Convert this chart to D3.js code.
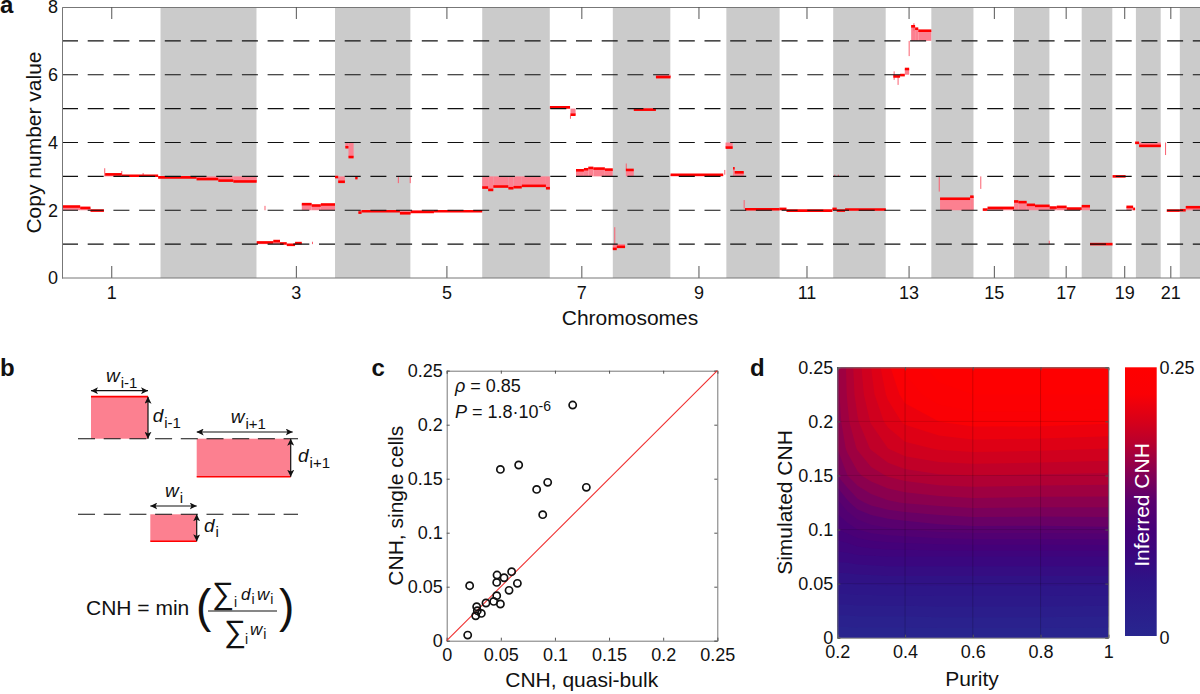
<!DOCTYPE html>
<html>
<head>
<meta charset="utf-8">
<script src="https://cdn.jsdelivr.net/npm/d3@7"></script>
<style>
  html, body { margin: 0; padding: 0; background: #fff; }
  svg { display: block; }
  text { font-family: "Liberation Sans", Arial, sans-serif; fill: #111; }
  .tick text { font-size: 18px; fill: #111; }
  .tick line { stroke: #555; }
  .domain { stroke: #777; }
</style>
</head>
<body>
<svg id="fig" width="1200" height="694"></svg>
<script>
// ---- panel a: chromosome lengths (Mb) and copy number segments
const chrLengths = [249,243,198,191,181,171,159,146,141,135,135,133,115,107,102,90,81,78,59,63,48,51];
const copyTicks = [0,2,4,6,8];
const copyLevels = [1,2,3,4,5,6,7];

// start Mb, end Mb, copy number, integer level it is filled to
const cnSegments = [
  [0,46,2.11,2],[46,72,2.07,2],[72,106,1.99,2],[109,151,3.06,3],[151,243,3.02,3],
  [243,340,2.97,3],[340,395,2.92,3],[395,433,2.875,3],[433,492,2.85,3],
  [492,534,1.05,1],[534,551,1.09,1],[551,568,1.02,1],[568,589,0.98,1],[589,606,1.03,1],
  [606,631,2.18,2],[631,654,2.14,2],[654,690,2.17,2],
  [690,698,2.98,3],[698,715,2.84,3],[716,724,3.86,4],[724,737,3.57,4],[741,747,2.95,3],
  [749,757,1.93,2],[757,854,1.97,2],[854,881,1.91,2],
  [881,940,1.95,2],[940,1062,1.97,2],
  [1062,1077,2.67,3],[1077,1090,2.6,3],[1090,1128,2.7,3],[1128,1141,2.65,3],
  [1141,1162,2.68,3],[1162,1223,2.72,3],[1223,1233,2.65,3],
  [1233,1284,5.04,5],[1285,1298,4.82,5],
  [1299,1319,3.18,3],[1319,1330,3.21,3],[1330,1343,3.25,3],[1343,1372,3.23,3],[1372,1392,3.2,3],
  [1392,1402,0.86,1],[1402,1423,0.92,1],[1425,1445,3.19,3],
  [1445,1501,4.97,5],[1501,1538,5.93,6],
  [1538,1671,3.05,3],[1677,1695,3.85,4],[1696,1700,3.24,3],[1700,1723,3.12,3],
  [1726,1813,2.03,2],[1813,1831,2.04,2],[1831,1947,1.99,2],
  [1947,1958,2.04,2],[1958,1979,1.99,2],[1979,2082,2.02,2],
  [2101,2118,5.95,6],[2118,2130,5.99,6],[2130,2141,6.17,6],
  [2146,2156,7.43,7],[2156,2164,7.36,7],[2164,2197,7.3,7],
  [2219,2295,2.34,2],[2295,2304,2.4,2],
  [2327,2339,2.02,2],[2339,2406,2.07,2],
  [2406,2417,2.26,2],[2417,2438,2.24,2],[2438,2459,2.16,2],[2459,2496,2.13,2],
  [2496,2514,2.08,2],[2514,2539,2.1,2],[2539,2577,2.05,2],
  [2577,2598,2.12,2],[2598,2655,1.0,1],
  [2655,2688,3.0,3],[2690,2707,2.1,2],[2707,2712,2.04,2],
  [2712,2722,3.99,4],[2722,2777,3.9,4],
  [2792,2825,1.99,2],[2825,2840,2.0,2],[2840,2876,2.09,2]
];

// thin pale spikes: Mb, from copy number, to copy number
const cnSpikes = [
  [108,3.0,3.24],[151,3.05,3.16],[205,3.0,3.1],[513,2.0,2.13],[633,1.0,1.07],
  [850,3.0,2.8],[880,2.8,3.0],[1285,4.8,4.7],[1397,1.0,1.5],[1426,3.2,3.38],
  [1675,3.05,3.19],[1724,2.05,2.3],[1953,3.0,3.05],[1962,3.0,3.05],
  [2141,6.55,7.0],[2103,5.85,6.1],[2113,5.7,5.95],[2153,7.3,7.52],
  [2217,2.55,3.0],[2322,2.63,3.0],[2495,1.0,1.1],[2789,3.63,4.0]
];

// ---- panel c: quasi-bulk vs single cell CNH
const bulkCNH = [0.0194,0.0212,0.0277,0.0268,0.0283,0.032,0.0363,0.0434,0.0462,0.0496,0.0462,0.0465,0.053,0.0576,0.06,0.0653,0.0496,0.0665,0.0831,0.0933,0.0887,0.129,0.1164];
const cellCNH = [0.0052,0.0509,0.0315,0.0231,0.0278,0.0253,0.0349,0.0364,0.0417,0.034,0.054,0.0608,0.0583,0.0466,0.0639,0.0531,0.1586,0.1627,0.1401,0.1466,0.1167,0.142,0.2182];
const cnhTicks = [0,0.05,0.1,0.15,0.2,0.25];

// ---- panel d: inferred CNH, one row per simulated CNH, one column per purity
const purityGrid = [0.2,0.23,0.26,0.3,0.35,0.4,0.5,0.6,0.8,1];
const simulatedGrid = [0,0.025,0.05,0.075,0.1,0.125,0.15,0.175,0.2,0.225,0.25];
const inferredGrid = [
  [0.001,0.001,0.001,0.001,0.001,0.001,0.001,0.001,0.001,0.001],
  [0.024,0.024,0.025,0.025,0.025,0.025,0.026,0.026,0.026,0.025],
  [0.05,0.05,0.051,0.051,0.052,0.052,0.052,0.052,0.052,0.052],
  [0.075,0.076,0.078,0.079,0.08,0.08,0.08,0.08,0.08,0.08],
  [0.1,0.104,0.11,0.115,0.118,0.12,0.124,0.126,0.126,0.127],
  [0.117,0.128,0.137,0.143,0.148,0.151,0.154,0.156,0.155,0.155],
  [0.14,0.15,0.158,0.165,0.171,0.175,0.179,0.18,0.179,0.178],
  [0.15,0.162,0.171,0.181,0.19,0.196,0.201,0.203,0.202,0.2],
  [0.155,0.168,0.179,0.191,0.203,0.212,0.22,0.224,0.224,0.222],
  [0.157,0.171,0.184,0.197,0.212,0.224,0.236,0.24,0.24,0.24],
  [0.158,0.172,0.186,0.2,0.218,0.232,0.245,0.25,0.25,0.25]
];
const cmapValues = [0,0.05,0.08,0.1,0.126,0.15,0.18,0.2,0.225,0.25];
const cmapColors = ["#28268f","#2d1487","#3c057d","#460078","#5a006e","#820055","#b9002d","#d70019","#fa0005","#ff0000"];
const purityTicks = [0.2,0.4,0.6,0.8,1];

// ---- panel b: schematic, segments as start, end, level and depth
const blockStart = [13,118.7,72.3];
const blockEnd = [70,212.7,118.7];
const blockLevel = [1,1,0];
const blockDepth = [0.556,-0.503,-0.357];
const schemLevels = [1,0];

const svg = d3.select("#fig");
const COPY_RED = "#ff0000";
const PINK = "#fc8090";

function panelLetter(s, x, y) {
  svg.append("text").attr("x", x).attr("y", y)
    .style("font-size", "24px").style("font-weight", "700").text(s);
}
function axisLabel(s, x, y, rot) {
  const t = svg.append("text").attr("text-anchor", "middle")
    .style("font-size", "21px").text(s);
  if (rot) t.attr("transform", `translate(${x},${y}) rotate(-90)`);
  else t.attr("x", x).attr("y", y);
  return t;
}

// PANEL A
(function() {
  const L = 62, R = 1200, T = 7, B = 278;
  const x = d3.scaleLinear().domain([0, d3.sum(chrLengths)]).range([L, R]);
  const y = d3.scaleLinear().domain([0, 8]).range([B, T]);
  const starts = d3.cumsum([0].concat(chrLengths));
  const g = svg.append("g");

  g.selectAll("rect.chr").data(chrLengths).enter().append("rect")
    .attr("class", "chr")
    .attr("x", (d, i) => x(starts[i]))
    .attr("width", (d, i) => x(starts[i] + d) - x(starts[i]))
    .attr("y", T).attr("height", B - T)
    .attr("fill", (d, i) => i % 2 ? "#cbcbcb" : "#fff");

  // pink fill down (or up) to the integer level
  g.selectAll("rect.fill").data(cnSegments).enter().append("rect")
    .attr("class", "fill")
    .attr("x", d => x(d[0])).attr("width", d => x(d[1]) - x(d[0]))
    .attr("y", d => y(Math.max(d[2], d[3])))
    .attr("height", d => Math.abs(y(d[2]) - y(d[3])))
    .attr("fill", PINK);

  g.selectAll("line.spike").data(cnSpikes).enter().append("line")
    .attr("class", "spike")
    .attr("x1", d => x(d[0])).attr("x2", d => x(d[0]))
    .attr("y1", d => y(d[1])).attr("y2", d => y(d[2]))
    .attr("stroke", "#fa6070").attr("stroke-width", 1);

  g.selectAll("line.seg").data(cnSegments).enter().append("line")
    .attr("class", "seg")
    .attr("x1", d => x(d[0])).attr("x2", d => x(d[1]))
    .attr("y1", d => y(d[2])).attr("y2", d => y(d[2]))
    .attr("stroke", COPY_RED).attr("stroke-width", 2.6);

  g.selectAll("line.level").data(copyLevels).enter().append("line")
    .attr("class", "level")
    .attr("x1", L).attr("x2", R)
    .attr("y1", d => y(d)).attr("y2", d => y(d))
    .attr("stroke", "#111").attr("stroke-width", 1.1)
    .attr("stroke-dasharray", "16,9.7");

  const odd = chrLengths.map((d, i) => i).filter(i => i % 2 === 0);
  const centres = odd.map(i => starts[i] + chrLengths[i] / 2);
  const xLabel = d3.scaleOrdinal().domain(centres).range(odd.map(i => String(i + 1)));

  g.append("g").attr("transform", `translate(0,${B})`)
    .call(d3.axisBottom(x).tickValues(centres).tickFormat(xLabel).tickSize(-12).tickPadding(8))
    .select(".domain").remove();
  g.append("g").attr("transform", `translate(0,${T})`)
    .call(d3.axisTop(x).tickValues(centres).tickFormat("").tickSize(-12));
  g.append("g").attr("transform", `translate(${L},0)`)
    .call(d3.axisLeft(y).tickValues(copyTicks).tickFormat(d3.format("d")).tickSize(0).tickPadding(4));
  g.append("line").attr("x1", L).attr("x2", R).attr("y1", B).attr("y2", B).attr("stroke", "#777");
  g.selectAll(".domain").attr("stroke", "#777");

  axisLabel("Chromosomes", 630, 325);
  axisLabel("Copy number value", 41, 142.5, true);
  panelLetter("a", 0, 13);
})();

// PANEL B
(function() {
  const x = d3.scaleLinear().domain([0, 220]).range([78, 298]);
  const y = d3.scaleLinear().domain([0, 1]).range([514.3, 438.7]);
  const g = svg.append("g");

  const defs = svg.append("defs");
  defs.append("marker").attr("id", "arrowhead")
    .attr("viewBox", "0 0 8 8").attr("refX", 8).attr("refY", 4)
    .attr("markerWidth", 7).attr("markerHeight", 7)
    .attr("markerUnits", "userSpaceOnUse")
    .attr("orient", "auto-start-reverse")
    .append("path").attr("d", "M0,0 L8,4 L0,8 L2,4 Z").attr("fill", "#111");

  const blocks = blockStart.map((d, i) => ({ x0: d, x1: blockEnd[i], level: blockLevel[i], depth: blockDepth[i] }));

  g.selectAll("rect").data(blocks).enter().append("rect")
    .attr("x", d => x(d.x0)).attr("width", d => x(d.x1) - x(d.x0))
    .attr("y", d => y(Math.max(d.level, d.level + d.depth)))
    .attr("height", d => Math.abs(y(d.level) - y(d.level + d.depth)))
    .attr("fill", PINK);

  g.selectAll("line.lv").data(schemLevels).enter().append("line")
    .attr("class", "lv")
    .attr("x1", x(0)).attr("x2", x(220))
    .attr("y1", d => y(d)).attr("y2", d => y(d))
    .attr("stroke", "#111").attr("stroke-width", 1.1)
    .attr("stroke-dasharray", "17,8.7");

  g.selectAll("line.edge").data(blocks).enter().append("line")
    .attr("class", "edge")
    .attr("x1", d => x(d.x0)).attr("x2", d => x(d.x1))
    .attr("y1", d => y(d.level + d.depth)).attr("y2", d => y(d.level + d.depth))
    .attr("stroke", COPY_RED).attr("stroke-width", 1.6);

  function arrow(x1, y1, x2, y2) {
    g.append("line").attr("x1", x1).attr("y1", y1).attr("x2", x2).attr("y2", y2)
      .attr("stroke", "#111").attr("stroke-width", 1.2)
      .attr("marker-start", "url(#arrowhead)").attr("marker-end", "url(#arrowhead)");
  }
  const gaps = [6, 6.7, 8.3];
  blocks.forEach((d, i) => {
    const top = y(Math.max(d.level, d.level + d.depth));
    const bot = y(Math.min(d.level, d.level + d.depth));
    arrow(x(d.x0), top - gaps[i], x(d.x1) + (i === 1 ? 2 : 0), top - gaps[i]);
    arrow(x(d.x1), top, x(d.x1), bot);
  });

  function sym(letter, sub, px, py, size, subSize, subDy) {
    const t = svg.append("text").attr("x", px).attr("y", py).style("font-size", size + "px");
    t.append("tspan").style("font-style", "italic").text(letter);
    t.append("tspan").attr("dy", subDy).attr("dx", 1).style("font-size", subSize + "px").text(sub);
  }
  sym("w", "i-1", 106, 382, 19, 15, 6);
  sym("d", "i-1", 152.7, 422, 19, 15, 6);
  sym("w", "i+1", 230.7, 422.7, 19, 15, 6);
  sym("d", "i+1", 298, 461.7, 19, 15, 6);
  sym("w", "i", 165, 496.7, 19, 15, 6);
  sym("d", "i", 204, 532.3, 19, 15, 5);

  // formula
  svg.append("text").attr("x", 86).attr("y", 615).style("font-size", "21px").text("CNH = min");
  svg.append("text").attr("x", 196).attr("y", 622).style("font-size", "46px").text("(");
  svg.append("text").attr("x", 279).attr("y", 622).style("font-size", "46px").text(")");
  svg.append("line").attr("x1", 208).attr("x2", 277).attr("y1", 611).attr("y2", 611)
    .attr("stroke", "#111").attr("stroke-width", 1.2);
  svg.append("text").attr("x", 212).attr("y", 604).style("font-size", "31px").text("∑");
  svg.append("text").attr("x", 234).attr("y", 607).style("font-size", "14px").text("i");
  sym("d", "i", 241, 600, 17, 14, 4);
  sym("w", "i", 257, 600, 17, 14, 4);
  svg.append("text").attr("x", 224).attr("y", 642).style("font-size", "31px").text("∑");
  svg.append("text").attr("x", 245).attr("y", 644).style("font-size", "14px").text("i");
  sym("w", "i", 250, 635, 17, 14, 4);

  panelLetter("b", 0, 376);
})();

// PANEL C
(function() {
  const L = 446.7, R = 717.3, T = 370.7, B = 640.7;
  const x = d3.scaleLinear().domain([0, 0.25]).range([L, R]);
  const y = d3.scaleLinear().domain([0, 0.25]).range([B, T]);
  const g = svg.append("g");
  const fmt = d => String(d);

  g.append("rect").attr("x", L).attr("y", T).attr("width", R - L).attr("height", B - T)
    .attr("fill", "#fff");
  g.append("g").attr("transform", `translate(0,${B})`)
    .call(d3.axisBottom(x).tickValues(cnhTicks).tickFormat(fmt).tickSize(-3).tickPadding(8));
  g.append("g").attr("transform", `translate(${L},0)`)
    .call(d3.axisLeft(y).tickValues(cnhTicks).tickFormat(fmt).tickSize(-3).tickPadding(4));
  g.append("g").attr("transform", `translate(0,${T})`)
    .call(d3.axisTop(x).tickValues(cnhTicks).tickFormat("").tickSize(-3));
  g.append("g").attr("transform", `translate(${R},0)`)
    .call(d3.axisRight(y).tickValues(cnhTicks).tickFormat("").tickSize(-3));

  g.append("line")
    .attr("x1", x(0)).attr("y1", y(0)).attr("x2", x(0.25)).attr("y2", y(0.25))
    .attr("stroke", "#f03030").attr("stroke-width", 1.1);

  g.selectAll("circle").data(bulkCNH).enter().append("circle")
    .attr("cx", d => x(d)).attr("cy", (d, i) => y(cellCNH[i]))
    .attr("r", 3.6).attr("fill", "none").attr("stroke", "#111").attr("stroke-width", 1.7);

  const rho = svg.append("text").attr("x", 455).attr("y", 391.7).style("font-size", "18px");
  rho.append("tspan").style("font-style", "italic").text("ρ");
  rho.append("tspan").text(" = 0.85");
  const p = svg.append("text").attr("x", 455).attr("y", 418).style("font-size", "18px");
  p.append("tspan").style("font-style", "italic").text("P");
  p.append("tspan").text(" = 1.8·10");
  p.append("tspan").attr("dy", -7).style("font-size", "14px").text("-6");

  axisLabel("CNH, quasi-bulk", 581.7, 687);
  axisLabel("CNH, single cells", 403, 505.7, true);
  panelLetter("c", 371.5, 376);
})();

// PANEL D
(function() {
  const L = 837.3, R = 1108.3, T = 367.3, B = 637.7;
  const x = d3.scaleLinear().domain([0.2, 1]).range([L, R]);
  const y = d3.scaleLinear().domain([0, 0.25]).range([B, T]);
  const color = d3.scaleLinear().domain(cmapValues).range(cmapColors).clamp(true);
  const g = svg.append("g");

  const nx = purityGrid.length, ny = simulatedGrid.length;
  // grid point i sits at contour coordinate i + 0.5, purity spacing is uneven
  const xi = d3.scaleLinear().domain(purityGrid.map((d, i) => i + 0.5)).range(purityGrid.map(x)).clamp(true);
  const yi = d3.scaleLinear().domain(simulatedGrid.map((d, i) => i + 0.5)).range(simulatedGrid.map(y)).clamp(true);
  const path = d3.geoPath(d3.geoTransform({
    point(a, b) { this.stream.point(xi(a), yi(b)); }
  }));
  const levels = d3.range(0, 0.25, 0.01);
  const contours = d3.contours().size([nx, ny]).thresholds(levels)(inferredGrid.flat());

  g.append("rect").attr("x", L).attr("y", T).attr("width", R - L).attr("height", B - T)
    .attr("fill", color(0));
  g.selectAll("path.band").data(contours).enter().append("path")
    .attr("class", "band")
    .attr("d", path)
    .attr("fill", d => color(d.value + 0.005));

  // faint gridlines at the ticks
  g.selectAll("line.vg").data(purityTicks.slice(1, -1)).enter().append("line")
    .attr("class", "vg")
    .attr("x1", d => x(d)).attr("x2", d => x(d)).attr("y1", T).attr("y2", B)
    .attr("stroke", "rgba(0,0,0,0.18)");
  g.selectAll("line.hg").data(cnhTicks.slice(1, -1)).enter().append("line")
    .attr("class", "hg")
    .attr("x1", L).attr("x2", R).attr("y1", d => y(d)).attr("y2", d => y(d))
    .attr("stroke", "rgba(0,0,0,0.12)");

  const fmt = d => String(d);
  g.append("g").attr("transform", `translate(0,${B})`)
    .call(d3.axisBottom(x).tickValues(purityTicks).tickFormat(fmt).tickSize(-3).tickPadding(8));
  g.append("g").attr("transform", `translate(${L},0)`)
    .call(d3.axisLeft(y).tickValues(cnhTicks).tickFormat(fmt).tickSize(-3).tickPadding(4));
  g.append("g").attr("transform", `translate(0,${T})`)
    .call(d3.axisTop(x).tickValues(purityTicks).tickFormat("").tickSize(-3));
  g.append("g").attr("transform", `translate(${R},0)`)
    .call(d3.axisRight(y).tickValues(cnhTicks).tickFormat("").tickSize(-3));

  // colour bar
  const barY = d3.scaleLinear().domain([0, 0.25]).range([636, 367.3]);
  const grad = svg.append("defs").append("linearGradient").attr("id", "cbar")
    .attr("x1", 0).attr("x2", 0).attr("y1", 1).attr("y2", 0);
  grad.selectAll("stop").data(cmapValues).enter().append("stop")
    .attr("offset", d => d / 0.25)
    .attr("stop-color", d => color(d));
  svg.append("rect").attr("x", 1125).attr("y", barY(0.25))
    .attr("width", 31.7).attr("height", barY(0) - barY(0.25))
    .attr("fill", "url(#cbar)");
  svg.append("text").attr("x", 1159.5).attr("y", 374).style("font-size", "18px").text("0.25");
  svg.append("text").attr("x", 1159.5).attr("y", 644).style("font-size", "18px").text("0");
  axisLabel("Inferred CNH", 1148.5, 505, true).style("fill", "#fff");

  axisLabel("Purity", 972, 686);
  axisLabel("Simulated CNH", 792, 502.5, true);
  panelLetter("d", 750, 376);
})();
</script>
</body>
</html>
